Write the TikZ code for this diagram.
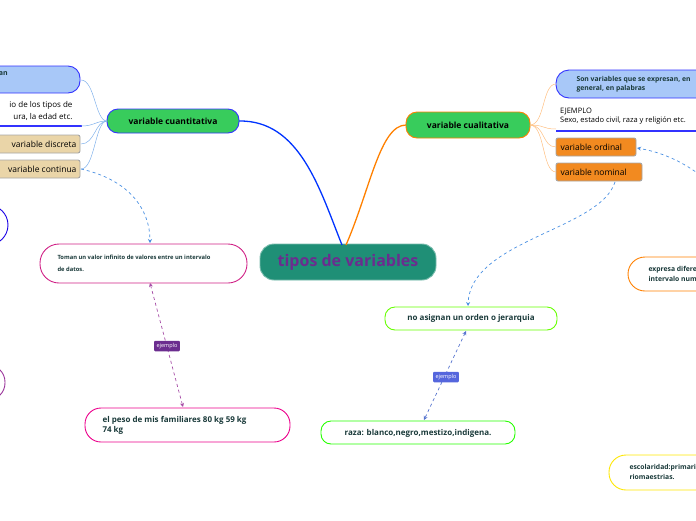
\documentclass[tikz,border=0pt]{standalone}
\usepackage{fontspec}
\setmainfont{Open Sans}
\usetikzlibrary{arrows.meta}
\definecolor{teal1}{HTML}{1F8F76}
\definecolor{tpurp}{HTML}{6B2D8F}
\definecolor{gfill}{HTML}{38CC5C}
\definecolor{bfill}{HTML}{A8C8F8}
\definecolor{tan}{HTML}{EAD5A8}
\definecolor{orf}{HTML}{F28A20}
\definecolor{dk}{HTML}{1A3A3A}
\definecolor{lb}{HTML}{4A90E2}
\definecolor{lab2}{HTML}{5566DD}
\tikzset{
 box/.style={draw,rounded corners=#1,line width=0.9pt,inner sep=0pt,anchor=north west},
 box/.default=9pt,
 txt/.style={text=dk,font=\bfseries\fontsize{7}{9}\selectfont,align=left,anchor=west},
 lnk/.style={dashed,line width=0.7pt,-{Stealth[length=4pt,width=4pt]}},
 lnk2/.style={dashed,line width=0.7pt,{Stealth[length=4pt,width=4pt]}-{Stealth[length=4pt,width=4pt]}},
 lab/.style={text=white,font=\fontsize{5.5}{6}\selectfont,rounded corners=1pt,inner sep=2.5pt},
 br/.style={line width=0.5pt}
}
\begin{document}
\begin{tikzpicture}[x=1pt,y=-1pt]
\useasboundingbox (0,0) rectangle (696,520);
\clip (0,0) rectangle (696,520);
% central
\draw[box=14pt,fill=teal1,draw=teal1!60] (260,244) rectangle (436,280);
\node[text=tpurp,font=\bfseries\fontsize{16}{17}\selectfont] (c) at (348,262) {tipos de variables};
\coordinate (ct) at (342,245); \coordinate (ct2) at (346,245);
% cuantitativa
\draw[box=11pt,fill=gfill,draw=blue!80] (107,109) rectangle (239,133);
\node[font=\bfseries\fontsize{8.5}{9}\selectfont] (cuan) at (173,121) {variable cuantitativa};
\draw[blue!80!cyan,line width=1.3pt] (ct) .. controls (320,190) and (300,120) .. (239,121);
% cualitativa
\draw[box=11pt,fill=gfill,draw=orange] (406,112) rectangle (530,138);
\node[font=\bfseries\fontsize{8.5}{9}\selectfont] (cual) at (468,125) {variable cualitativa};
\draw[orange,line width=1.3pt] (ct2) .. controls (370,190) and (380,125) .. (406,125);
% left branch
\draw[box=12pt,fill=bfill,draw=blue!80] (-100,66) rectangle (80,93);
\node[txt,anchor=east,inner sep=0pt] (l1) at (8,74) {an};
\node[font=\fontsize{8}{12}\selectfont,align=right,anchor=east] (l2) at (76,111) {io de los tipos de\\ura, la edad etc.};
\draw[blue!80,line width=1.3pt] (-10,126) -- (82,126);
\draw[box=2pt,fill=tan,draw=gray!70] (-60,135) rectangle (80,153);
\node[font=\fontsize{8.5}{9}\selectfont,anchor=east] (l3) at (80,144) {variable discreta};
\draw[box=2pt,fill=tan,draw=gray!70] (-60,160) rectangle (80,178);
\node[font=\fontsize{8.5}{9}\selectfont,anchor=east] (l4) at (80,169) {variable continua};
\foreach \y in {80,126,144,169}
  \draw[br,lb!70] (107,121) .. controls (95,121) and (95,\y) .. (81,\y);
\draw[blue!80!violet,line width=0.9pt,rounded corners=20pt] (-40,205) rectangle (8,245);
\draw[violet!80,line width=0.9pt,rounded corners=17pt] (-40,365) rectangle (5,400);
% Toman
\draw[box=19pt,fill=white,draw=magenta!70!violet] (40,244) rectangle (247,283);
\node[txt,font=\bfseries\fontsize{5.8}{12}\selectfont] (tom) at (54,263) {Toman un valor infinito de valores entre un intervalo\\de datos.};
\draw[lnk,lb] (81,169) .. controls (130,180) and (150,210) .. (150,243);
\draw[box=16pt,fill=white,draw=magenta] (85,408) rectangle (290,442);
\node[txt,font=\bfseries\fontsize{8}{10}\selectfont] (peso) at (99,425) {el peso de mis familiares 80 kg 59 kg\\74 kg};
\draw[lnk2,violet!70] (150,283) -- (183,407);
\node[lab,fill=tpurp] (e1) at (167,346) {ejemplo};
% right branch
\draw[box=13pt,fill=bfill,draw=blue!80] (556,70) rectangle (760,98);
\node[txt,font=\bfseries\fontsize{6.8}{9}\selectfont] (r1) at (573,84) {Son variables que se expresan, en\\general, en palabras};
\node[font=\fontsize{7.5}{9}\selectfont,align=left,anchor=west,inner sep=0pt] (r2) at (560,116) {EJEMPLO\\Sexo, estado civil, raza y religión etc.};
\draw[blue!80,line width=1.3pt] (556,131) -- (700,131);
\draw[box=2pt,fill=orf,draw=gray!70] (556,138) rectangle (636,156);
\node[font=\fontsize{8.5}{9}\selectfont,anchor=west] (r3) at (557,147) {variable ordinal};
\draw[box=2pt,fill=orf,draw=gray!70] (556,163) rectangle (642,181);
\node[font=\fontsize{8.5}{9}\selectfont,anchor=west] (r4) at (557,172) {variable nominal};
\foreach \y in {84,129,147,172}
  \draw[br,orange!50] (530,125) .. controls (545,125) and (542,\y) .. (556,\y);
\draw[lnk,lb] (700,175) .. controls (680,160) and (660,152) .. (637,148);
\draw[box=17pt,fill=white,draw=orange] (628,257) rectangle (760,291);
\node[txt,font=\bfseries\fontsize{6.8}{10}\selectfont] (r5) at (645,274) {expresa diferencias en un\\intervalo numérico};
\draw[box=17pt,fill=white,draw=yellow!90!orange] (609,455) rectangle (760,490);
\node[txt,font=\bfseries\fontsize{6.8}{10}\selectfont] (r6) at (626,472) {escolaridad:primaria,secunda\\riomaestrias.};
% no asignan
\draw[box=10pt,fill=white,draw=green!60!yellow] (385,307) rectangle (557,330);
\node[txt,font=\bfseries\fontsize{8}{9}\selectfont,anchor=center] (na) at (471,318) {no asignan un orden o jerarquia};
\draw[lnk,lb] (615,182) .. controls (600,230) and (470,240) .. (468,306);
\draw[box=10pt,fill=white,draw=green!80!lime] (321,421) rectangle (515,444);
\node[txt,font=\bfseries\fontsize{8}{9}\selectfont,anchor=center] (rz) at (418,433) {raza: blanco,negro,mestizo,indigena.};
\draw[lnk2,lb!80!violet] (466,331) -- (424,420);
\node[lab,fill=lab2] (e2) at (446,377) {ejemplo};
\end{tikzpicture}
\end{document}
